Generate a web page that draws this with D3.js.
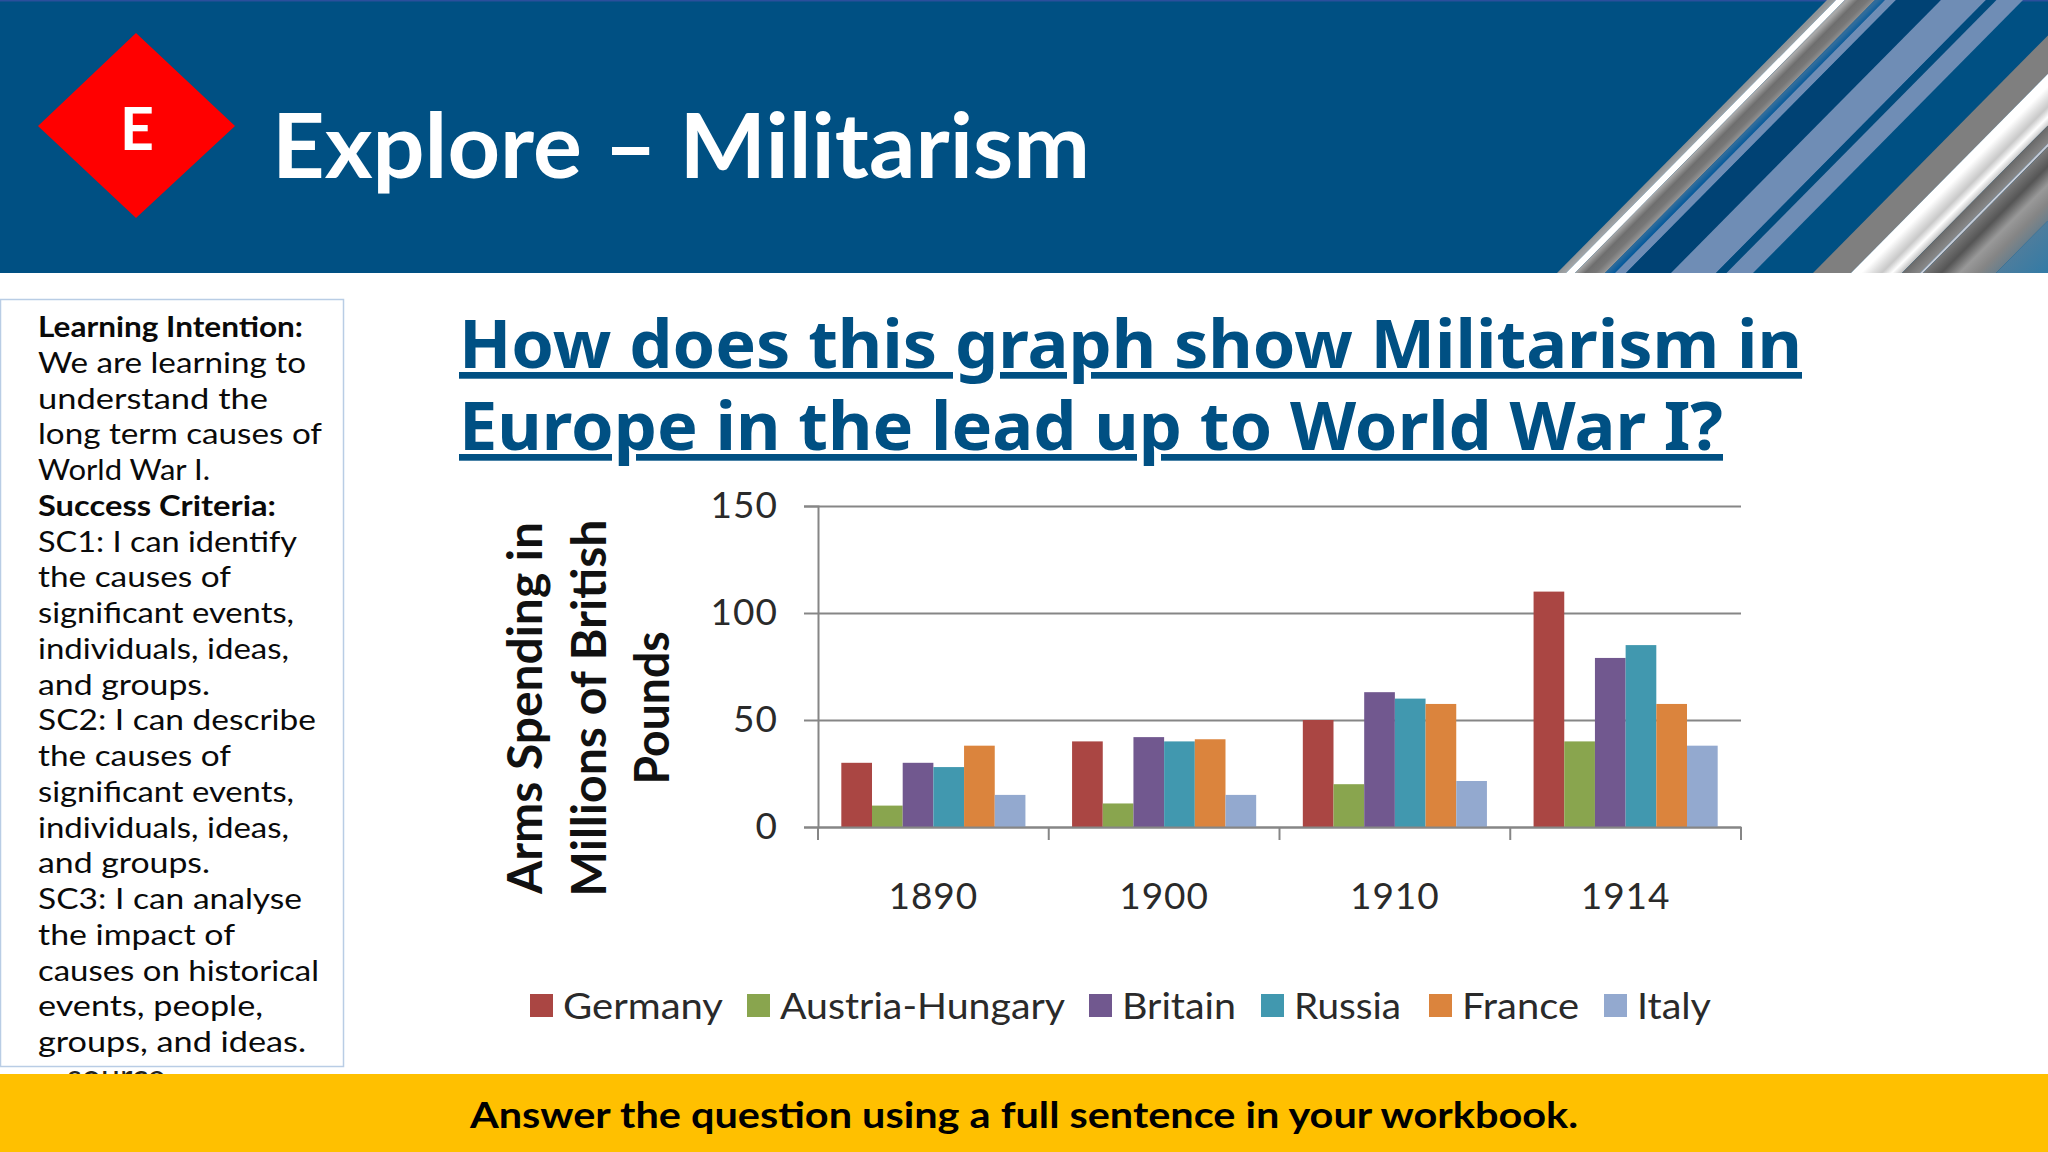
<!DOCTYPE html>
<meta charset="utf-8" />
<html>
<head>
<style>
    html, body { margin: 0; padding: 0; background: #fff; }
    svg { display: block; }
    text { font-family: Lato, sans-serif; }
</style>
<script src="https://d3js.org/d3.v7.min.js"></script>
</head>
<body>
<div id="slide"></div>

<script>
    // chart data
    const years = ["1890", "1900", "1910", "1914"];
    const countries = ["Germany", "Austria-Hungary", "Britain", "Russia", "France", "Italy"];
    const germany = [30, 40, 50, 110];
    const austriaHungary = [10, 11, 20, 40];
    const britain = [30, 42, 63, 79];
    const russia = [28, 40, 60, 85];
    const france = [38, 41, 57.5, 57.5];
    const italy = [15, 15, 21.5, 38];
    const seriesValues = [germany, austriaHungary, britain, russia, france, italy];
    const yTicks = [0, 50, 100, 150];
    const countryColors = ["#aa4643", "#89a54e", "#71588f", "#4198af", "#db843d", "#93a9cf"];

    // slide text
    const sideLines = [
        "Learning Intention:", "We are learning to", "understand the", "long term causes of",
        "World War I.", "Success Criteria:", "SC1: I can identify", "the causes of",
        "significant events,", "individuals, ideas,", "and groups.", "SC2: I can describe",
        "the causes of", "significant events,", "individuals, ideas,", "and groups.",
        "SC3: I can analyse", "the impact of", "causes on historical", "events, people,",
        "groups, and ideas."
    ];
    const sideBoldLines = ["Learning Intention:", "Success Criteria:"];
    const sideWidths = [265, 268, 230, 284, 172, 238, 259, 193, 256, 251, 172, 278, 193, 256, 251, 172, 264, 197, 281, 225, 268];
    const questionLines = ["How does this graph show Militarism in", "Europe in the lead up to World War I?"];
    const questionWidths = [1343, 1264];
    const yTitleLines = ["Arms Spending in", "Millions of British", "Pounds"];

    const W = 2048, H = 1152, headerH = 273;

    const svg = d3.select("#slide").append("svg").attr("width", W).attr("height", H);
    const defs = svg.append("defs");
    svg.append("rect").attr("width", W).attr("height", H).attr("fill", "#fff");

    // ---- header band ----
    svg.append("rect").attr("width", W).attr("height", headerH).attr("fill", "#005083");
    svg.append("rect").attr("width", W).attr("height", 1.5).attr("fill", "#2b4f9c");

    defs.append("clipPath").attr("id", "headerClip")
        .append("rect").attr("width", W).attr("height", headerH);

    // diagonal stripes: start and end x along the bottom of the header
    const stripes = [
        [1557, 1566, ["#8f9396", "#a5a8aa"]],
        [1566, 1575, ["#ffffff", "#ffffff"]],
        [1575, 1605, ["#a8a8a8", "#6e6e6e", "#777", "#9a9a9a"]],
        [1605, 1615, ["#2f6c9c", "#00589c"]],
        [1615, 1626, ["#6f8db5", "#6f8db5"]],
        [1626, 1671, ["#004274", "#004274"]],
        [1671, 1716, ["#6f8db5", "#6f8db5"]],
        [1716, 1726.5, ["#004a7c", "#004a7c"]],
        [1726.5, 1753, ["#6f8db5", "#6f8db5"]],
        [1813, 1851, ["#7f7f7f", "#7f7f7f"]],
        [1851, 1902, ["#ffffff", "#ffffff", "#e2e2e2", "#c8c8c8", "#ffffff", "#c0c0c0"]],
        [1902, 1920, ["#6b6b6b", "#8a8a8a"]],
        [1920, 1923, ["#c9ccd6", "#c9ccd6"]],
        [1923, 1996, ["#777", "#555", "#999", "#858585", "#6a7f8c"]],
        [1996, 2060, ["#4d7d9d", "#2b7aa8"]]
    ];
    const stripeRise = 270;
    const stripeLayer = svg.append("g").attr("clip-path", "url(#headerClip)");
    stripes.forEach(function (s, i) {
        const w = s[1] - s[0];
        const grad = defs.append("linearGradient")
            .attr("id", "stripe" + i)
            .attr("gradientUnits", "userSpaceOnUse")
            .attr("x1", s[0]).attr("y1", headerH)
            .attr("x2", s[0] + w / 2).attr("y2", headerH + w / 2);
        s[2].forEach(function (c, j) {
            grad.append("stop").attr("offset", j / (s[2].length - 1)).attr("stop-color", c);
        });
        stripeLayer.append("path")
            .attr("d", `M${s[0]},${headerH}L${s[1]},${headerH}L${s[1] + stripeRise},0L${s[0] + stripeRise},0Z`)
            .attr("fill", `url(#stripe${i})`);
    });

    // red diamond and titles
    svg.append("path").attr("d", "M38,126L136,33L235,126L136,218Z").attr("fill", "#ff0000");
    svg.append("text").attr("x", 137).attr("y", 150).attr("text-anchor", "middle")
        .attr("font-size", 59).attr("font-weight", 700).attr("fill", "#fff").text("E");
    svg.append("text").attr("x", 272).attr("y", 178)
        .attr("font-size", 90).attr("font-weight", 700).attr("fill", "#fff")
        .attr("textLength", 818).attr("lengthAdjust", "spacingAndGlyphs")
        .text("Explore – Militarism");

    // ---- yellow bar ----
    svg.append("text").attr("x", 67).attr("y", 1089).attr("font-size", 34).attr("fill", "#222").text("source");
    svg.append("rect").attr("y", 1074).attr("width", W).attr("height", H - 1074).attr("fill", "#ffc000");
    svg.append("text").attr("x", 1024).attr("y", 1128).attr("text-anchor", "middle")
        .attr("font-size", 37).attr("font-weight", 700).attr("fill", "#000")
        .attr("textLength", 1108).attr("lengthAdjust", "spacingAndGlyphs")
        .text("Answer the question using a full sentence in your workbook.");

    // ---- left box ----
    svg.append("rect").attr("x", 0.5).attr("y", 299.5).attr("width", 343).attr("height", 767)
        .attr("fill", "#fff").attr("stroke", "#b9cde5").attr("stroke-width", 1.5);
    svg.append("g").selectAll("text")
        .data(sideLines)
        .join("text")
        .attr("x", 38)
        .attr("y", (d, i) => 337 + i * 35.75)
        .attr("font-size", 29)
        .attr("font-weight", d => sideBoldLines.includes(d) ? 700 : 400)
        .attr("textLength", (d, i) => sideWidths[i])
        .attr("lengthAdjust", "spacingAndGlyphs")
        .attr("fill", "#0a0a0a")
        .text(d => d);

    // ---- question ----
    svg.append("g").selectAll("text")
        .data(questionLines)
        .join("text")
        .attr("x", 459)
        .attr("y", (d, i) => 368 + i * 82)
        .attr("font-size", 67)
        .attr("font-weight", 700)
        .attr("textLength", (d, i) => questionWidths[i])
        .attr("lengthAdjust", "spacingAndGlyphs")
        .style("font-family", "'Noto Sans', sans-serif")
        .style("text-decoration", "underline")
        .style("text-decoration-skip-ink", "none")
        .attr("fill", "#005083")
        .text(d => d);

    // ---- chart ----
    const plot = { left: 818, right: 1741, top: 506, bottom: 827 };
    const axisColor = "#868686";

    const x = d3.scaleBand().domain(years).range([plot.left, plot.right]);
    const xInner = d3.scaleBand().domain(countries).range([0, x.bandwidth()]).paddingOuter(0.76);
    const y = d3.scaleLinear().domain([0, 150]).range([plot.bottom, plot.top]);

    // gridlines with the short outside ticks
    const yAxis = svg.append("g")
        .attr("transform", `translate(${plot.left},0)`)
        .call(d3.axisLeft(y).tickValues(yTicks).tickSize(14).tickPadding(26));
    yAxis.selectAll(".tick text")
        .attr("font-size", 37).attr("letter-spacing", 1).attr("fill", "#2a2a2a").style("font-family", "Lato, sans-serif");
    yAxis.selectAll("line").attr("stroke", axisColor).attr("stroke-width", 2);
    yAxis.select(".domain").attr("stroke", axisColor).attr("stroke-width", 2);

    const grid = svg.append("g")
        .attr("transform", `translate(${plot.left},0)`)
        .call(d3.axisRight(y).tickValues(yTicks).tickSize(plot.right - plot.left).tickFormat(""));
    grid.select(".domain").remove();
    grid.selectAll("line").attr("stroke", axisColor).attr("stroke-width", 2);

    // bars
    svg.append("g").selectAll("g")
        .data(countries)
        .join("g")
        .attr("fill", (d, i) => countryColors[i])
        .selectAll("rect")
        .data((d, i) => seriesValues[i].map((v, j) => ({ country: d, year: years[j], value: v })))
        .join("rect")
        .attr("x", d => x(d.year) + xInner(d.country))
        .attr("y", d => y(d.value))
        .attr("width", xInner.bandwidth())
        .attr("height", d => y(0) - y(d.value));

    // x axis, ticks sit between the categories
    const xAxis = svg.append("g")
        .attr("transform", `translate(0,${plot.bottom})`)
        .call(d3.axisBottom(x).tickSize(0).tickPadding(56));
    xAxis.select(".domain").attr("stroke", axisColor).attr("stroke-width", 2);
    xAxis.selectAll(".tick text")
        .attr("font-size", 37).attr("letter-spacing", 1).attr("fill", "#2a2a2a").style("font-family", "Lato, sans-serif");
    svg.append("g").selectAll("line")
        .data(d3.range(years.length + 1))
        .join("line")
        .attr("x1", d => plot.left + d * x.step())
        .attr("x2", d => plot.left + d * x.step())
        .attr("y1", plot.bottom)
        .attr("y2", plot.bottom + 13)
        .attr("stroke", axisColor)
        .attr("stroke-width", 2);

    // y axis title, three rotated lines
    const yTitleWidths = [372, 377, 153];
    svg.append("g").selectAll("text")
        .data(yTitleLines)
        .join("text")
        .attr("transform", (d, i) => `translate(${542 + i * 63.5},708) rotate(-90)`)
        .attr("text-anchor", "middle")
        .attr("font-size", 47)
        .attr("font-weight", 700)
        .attr("fill", "#111")
        .attr("textLength", (d, i) => yTitleWidths[i])
        .attr("lengthAdjust", "spacingAndGlyphs")
        .text(d => d);

    // legend
    const legendTextWidths = [160, 285, 114, 107, 117, 74];
    const legendStart = [530, 747, 1089, 1261, 1429, 1604];
    const legend = svg.append("g").selectAll("g")
        .data(countries)
        .join("g")
        .attr("transform", (d, i) => `translate(${legendStart[i]},994)`);
    legend.append("rect").attr("width", 23).attr("height", 23).attr("fill", (d, i) => countryColors[i]);
    legend.append("text")
        .attr("x", 33).attr("y", 25)
        .attr("font-size", 37)
        .attr("fill", "#2a2a2a")
        .attr("textLength", (d, i) => legendTextWidths[i])
        .attr("lengthAdjust", "spacingAndGlyphs")
        .text(d => d);
</script>
</body>
</html>
